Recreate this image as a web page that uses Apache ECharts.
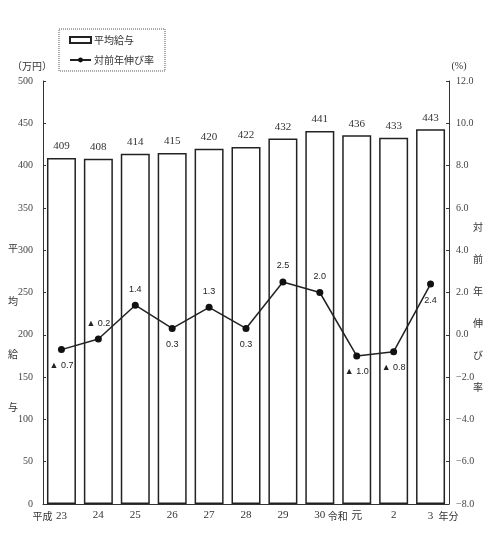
<!DOCTYPE html>
<html>
<head>
<meta charset="utf-8">
<script src="https://cdn.jsdelivr.net/npm/echarts@6/dist/echarts.min.js"></script>
<style>
  html, body { margin: 0; padding: 0; background: #fff; }
  #chart { width: 499px; height: 540px; }
</style>
</head>
<body>
<div id="chart"></div>
<script>
// years (era + number), salary (万円) and growth (%)
var eras = ['平成', '', '', '', '', '', '', '', '令和', '', ''];
var years = ['23', '24', '25', '26', '27', '28', '29', '30', '元', '2', '3'];
var salary = [409, 408, 414, 415, 420, 422, 432, 441, 436, 433, 443];
var growth = [-0.7, -0.2, 1.4, 0.3, 1.3, 0.3, 2.5, 2.0, -1.0, -0.8, 2.4];
var growthLabelPos = ['bottom', 'top', 'top', 'bottom', 'top', 'bottom', 'top', 'top', 'bottom', 'bottom', 'bottom'];

var serif = "'Liberation Serif', 'Noto Sans CJK JP', serif";
var jp = "'Noto Sans CJK JP', sans-serif";

var chartDom = document.getElementById('chart');
var myChart = echarts.init(chartDom);
var option;

var categories = years.map(function (y, i) { return String(i); });

option = {
    animation: false,
    textStyle: { fontFamily: serif, color: '#333' },
    legend: {
        left: 59,
        top: 29,
        orient: 'vertical',
        padding: [6, 11, 6, 10],
        itemGap: 10,
        itemWidth: 21,
        itemHeight: 6,
        borderColor: '#555',
        borderWidth: 1,
        borderType: 'dotted',
        textStyle: { fontFamily: jp, fontSize: 10, color: '#333', padding: [0, 0, 0, -2] },
        data: [
            { name: '平均給与', icon: 'rect' },
            { name: '対前年伸び率' }
        ]
    },
    grid: { left: 43, right: 50, top: 81, bottom: 36 },
    xAxis: {
        type: 'category',
        data: categories,
        axisLine: { lineStyle: { color: '#333', width: 1 } },
        axisTick: { show: false },
        axisLabel: {
            interval: 0,
            margin: 6,
            formatter: function (v) {
                var idx = Number(v);
                if (idx === years.length - 1) {
                    return '{p|}{n|' + years[idx] + '}{e|年分}';
                }
                if (eras[idx]) {
                    return '{e|' + eras[idx] + '}{n|' + years[idx] + '}{p|}';
                }
                return '{n|' + years[idx] + '}';
            },
            rich: {
                n: { fontFamily: serif, fontSize: 11, color: '#333', width: 14, align: 'center' },
                e: { fontFamily: jp, fontSize: 10, color: '#333', width: 22, align: 'left' },
                p: { width: 22 }
            }
        }
    },
    yAxis: [
        {
            type: 'value',
            min: 0,
            max: 500,
            interval: 50,
            name: '（万円）',
            nameLocation: 'end',
            nameGap: 10,
            nameTextStyle: { fontFamily: jp, fontSize: 10, color: '#333', align: 'center', padding: [0, 0, 0, -22] },
            axisLine: { show: true, lineStyle: { color: '#333' } },
            axisTick: { show: true, inside: true, length: 3, lineStyle: { color: '#333' } },
            axisLabel: { fontFamily: serif, fontSize: 10, color: '#444', margin: 10 },
            splitLine: { show: false }
        },
        {
            type: 'value',
            min: -8,
            max: 12,
            interval: 2,
            name: '(%)',
            nameLocation: 'end',
            nameGap: 10,
            nameTextStyle: { fontFamily: serif, fontSize: 10, color: '#333', align: 'center', padding: [0, 0, 0, 20] },
            axisLine: { show: true, lineStyle: { color: '#333' } },
            axisTick: { show: true, inside: true, length: 3, lineStyle: { color: '#333' } },
            axisLabel: {
                fontFamily: serif, fontSize: 10, color: '#444', margin: 7,
                formatter: function (v) {
                    return (v < 0 ? '\u2212' : '') + Math.abs(v).toFixed(1);
                }
            },
            splitLine: { show: false }
        }
    ],
    graphic: [
        {
            type: 'text', left: 8, top: 222,
            style: { text: '平\n均\n給\n与', font: "10px 'Noto Sans CJK JP'", fill: '#333', lineHeight: 53 }
        },
        {
            type: 'text', left: 473, top: 211,
            style: { text: '対\n前\n年\n伸\nび\n率', font: "10px 'Noto Sans CJK JP'", fill: '#333', lineHeight: 32 }
        }
    ],
    series: [
        {
            name: '平均給与',
            type: 'bar',
            yAxisIndex: 0,
            data: salary,
            barWidth: 29,
            itemStyle: { color: '#fff', borderColor: '#222', borderWidth: 1.5 },
            label: {
                show: true,
                position: 'top',
                distance: 6,
                fontFamily: serif,
                fontSize: 11,
                color: '#333'
            }
        },
        {
            name: '対前年伸び率',
            type: 'line',
            yAxisIndex: 1,
            data: growth.map(function (g, i) {
                return { value: g, label: { position: growthLabelPos[i] } };
            }),
            symbol: 'circle',
            symbolSize: 7,
            lineStyle: { color: '#222', width: 1.5 },
            itemStyle: { color: '#111' },
            label: {
                show: true,
                distance: 8,
                fontFamily: "'Liberation Sans', 'DejaVu Sans', sans-serif",
                fontSize: 9,
                color: '#222',
                formatter: function (p) {
                    var v = p.value;
                    return v < 0 ? '\u25B2 ' + Math.abs(v).toFixed(1) : v.toFixed(1);
                }
            },
            z: 5
        }
    ]
};

option && myChart.setOption(option);
window.addEventListener('resize', function () {
    myChart.resize();
});
</script>
</body>
</html>
